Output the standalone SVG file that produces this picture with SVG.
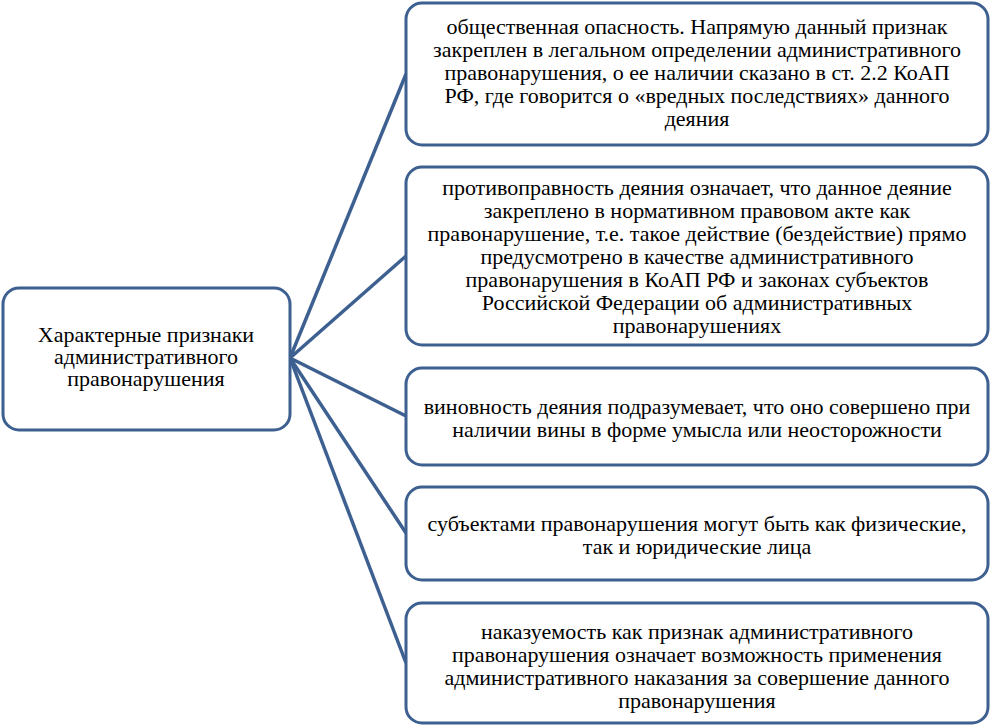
<svg xmlns="http://www.w3.org/2000/svg" width="996" height="726" viewBox="0 0 996 726">
<style>
.b{fill:#fff;stroke:#3d6090;stroke-width:3}
.c{stroke:#3d6090;stroke-width:3.5;fill:none}
text{font-family:'Liberation Serif','Times New Roman','DejaVu Serif',serif;font-size:22px;fill:#000;text-anchor:middle}
</style>
<rect width="996" height="726" fill="#fff"/>
<g id="connectors">
<line class="c" x1="290" y1="358" x2="406" y2="74"/>
<line class="c" x1="290" y1="358" x2="406" y2="256"/>
<line class="c" x1="290" y1="358" x2="406" y2="416"/>
<line class="c" x1="290" y1="358" x2="406" y2="533"/>
<line class="c" x1="290" y1="358" x2="406" y2="663"/>
</g>
<g id="root"><rect class="b" x="3" y="288" width="287" height="142" rx="16"/>
<text x="146" y="342">Характерные признаки</text><text x="146" y="364">административного</text><text x="146" y="386">правонарушения</text></g>
<g id="n1"><rect class="b" x="406" y="3" width="582" height="142" rx="16"/>
<text x="697" y="34">общественная опасность. Напрямую данный признак</text>
<text x="697" y="57">закреплен в легальном определении административного</text>
<text x="697" y="80">правонарушения, о ее наличии сказано в ст. 2.2 КоАП</text>
<text x="697" y="103">РФ, где говорится о «вредных последствиях» данного</text>
<text x="697" y="126">деяния</text></g>
<g id="n2"><rect class="b" x="406" y="167" width="582" height="178" rx="16"/>
<text x="697" y="195">противоправность деяния означает, что данное деяние</text>
<text x="697" y="218">закреплено в нормативном правовом акте как</text>
<text x="697" y="241">правонарушение, т.е. такое действие (бездействие) прямо</text>
<text x="697" y="264">предусмотрено в качестве административного</text>
<text x="697" y="287">правонарушения в КоАП РФ и законах субъектов</text>
<text x="697" y="310">Российской Федерации об административных</text>
<text x="697" y="333">правонарушениях</text></g>
<g id="n3"><rect class="b" x="406" y="368" width="582" height="97" rx="16"/>
<text x="697" y="414">виновность деяния подразумевает, что оно совершено при</text>
<text x="697" y="437">наличии вины в форме умысла или неосторожности</text></g>
<g id="n4"><rect class="b" x="406" y="487" width="582" height="93" rx="16"/>
<text x="697" y="531">субъектами правонарушения могут быть как физические,</text>
<text x="697" y="554">так и юридические лица</text></g>
<g id="n5"><rect class="b" x="406" y="603" width="582" height="120" rx="16"/>
<text x="697" y="639">наказуемость как признак административного</text>
<text x="697" y="662">правонарушения означает возможность применения</text>
<text x="697" y="685">административного наказания за совершение данного</text>
<text x="697" y="708">правонарушения</text></g>
</svg>
